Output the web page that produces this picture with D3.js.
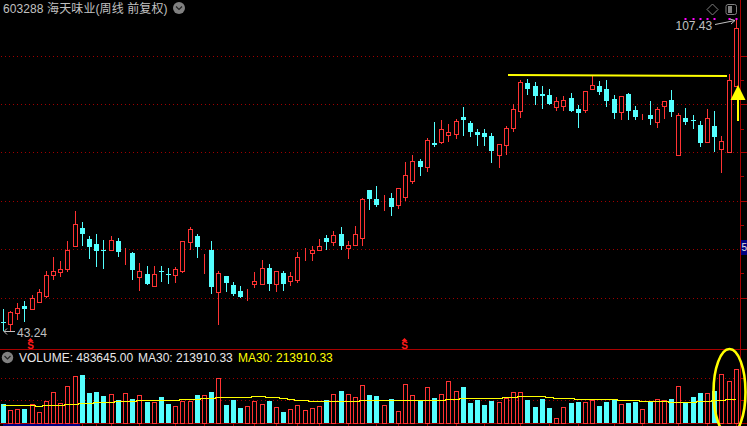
<!DOCTYPE html>
<html>
<head>
<meta charset="utf-8">
<style>
html,body{margin:0;padding:0;background:#000;overflow:hidden}
svg{display:block}
text{font-family:"Liberation Sans","Noto Sans CJK SC",sans-serif;font-size:12px}
</style>
<script src="https://cdn.jsdelivr.net/npm/d3@7/dist/d3.min.js"></script>
</head>
<body>
<svg id="chart" width="747" height="426"></svg>
<script>
// Weekly OHLC and volume for 603288, forward-adjusted.
const opens = [44.42,44.14,45.49,46.52,46.02,46.97,47.90,50.84,51.39,51.74,55.34,58.44,56.60,55.78,54.78,54.80,56.27,54.21,54.33,50.64,51.09,49.33,51.53,51.08,50.84,51.54,55.99,57.10,53.56,54.80,48.37,50.79,49.47,48.61,48.19,49.52,49.52,52.00,49.52,51.24,49.95,50.20,54.12,54.21,54.69,56.77,55.94,57.43,55.01,55.50,56.65,65.31,63.62,63.68,63.81,62.39,63.86,66.92,71.09,69.72,74.95,75.01,76.56,76.79,80.86,79.46,77.39,77.17,76.50,72.21,74.44,78.14,82.22,89.32,88.54,86.49,86.24,83.09,83.44,85.48,82.78,82.36,87.68,88.54,87.76,85.23,81.89,86.49,82.53,80.94,81.34,79.53,83.33,84.98,72.21,80.63,80.18,79.00,75.01,78.77,73.49,72.85,88.54];
const highs = [46.12,45.81,46.93,47.16,48.00,48.90,51.54,53.68,53.06,56.21,61.42,59.48,57.10,57.43,56.43,57.10,56.77,55.13,54.48,52.76,52.30,52.30,52.30,52.00,52.15,56.21,58.62,57.43,54.17,56.27,51.54,50.79,49.91,49.33,48.90,51.39,53.22,52.61,51.50,51.54,51.39,54.48,55.13,55.45,56.60,57.27,57.93,58.62,56.27,58.79,63.81,65.31,66.09,64.37,64.75,65.64,70.89,72.36,71.51,76.05,79.69,80.15,79.23,80.39,83.26,79.92,78.07,78.07,77.17,74.73,78.69,84.00,90.10,90.37,89.58,88.54,87.76,85.74,85.99,86.74,83.76,87.17,91.43,89.84,90.10,86.24,85.91,86.74,83.51,81.58,84.73,83.26,84.66,87.50,81.82,83.02,81.34,79.92,82.78,82.29,76.50,91.70,107.43];
const lows = [43.24,43.24,44.65,44.39,46.02,46.97,47.58,50.20,50.64,51.39,55.34,55.45,53.38,52.15,51.84,54.80,53.69,52.45,50.20,48.61,49.47,49.33,49.91,49.62,49.76,51.24,54.80,53.54,51.09,48.19,44.01,48.47,47.90,47.62,47.20,49.04,49.52,48.61,48.47,48.61,49.33,49.76,53.06,53.06,54.69,54.80,55.45,54.80,53.38,55.50,55.45,61.60,62.15,61.42,60.54,61.78,63.25,66.47,68.05,68.85,74.07,74.73,75.16,75.82,76.50,76.27,74.29,74.29,70.68,69.66,72.36,77.39,80.63,86.24,83.76,82.78,83.76,82.29,82.29,82.05,78.30,81.82,87.68,86.24,83.26,80.39,80.15,80.15,80.15,80.15,79.00,78.30,80.39,80.86,72.21,79.00,78.07,74.07,75.01,73.00,68.65,72.85,88.54];
const closes = [44.36,45.67,46.21,46.12,47.58,48.43,50.90,51.50,51.80,54.75,59.09,57.43,55.29,54.64,54.72,56.38,54.48,54.23,51.69,51.50,49.62,51.05,51.47,51.02,51.80,56.21,58.22,55.29,53.58,49.18,51.20,49.76,48.19,47.76,48.21,50.01,51.95,49.62,51.50,49.62,50.75,53.65,54.14,54.75,55.40,56.10,57.10,55.45,55.56,57.38,63.56,63.62,62.51,63.70,62.15,65.64,68.19,71.03,69.87,75.53,74.51,78.00,77.32,79.85,80.15,77.39,76.72,76.27,73.21,74.51,78.23,82.70,89.50,87.76,85.99,85.99,84.00,84.66,84.91,82.29,81.82,87.17,88.72,87.00,84.73,81.82,85.91,82.29,80.86,80.97,80.39,82.70,84.66,82.05,81.27,79.69,80.12,74.95,80.55,76.27,75.32,90.02,104.80];
const volumes = [171000,114000,123000,123000,168000,96000,195000,276000,177000,330000,420000,432000,270000,279000,243000,258000,207000,267000,216000,249000,189000,186000,234000,171000,150000,195000,195000,252000,249000,279000,402000,162000,207000,135000,150000,195000,168000,198000,141000,99000,123000,159000,114000,132000,150000,207000,258000,288000,258000,231000,339000,252000,243000,159000,216000,105000,348000,249000,204000,321000,225000,258000,375000,285000,324000,180000,207000,162000,198000,189000,222000,276000,276000,207000,144000,216000,135000,42000,141000,180000,189000,186000,204000,153000,189000,207000,168000,180000,189000,123000,195000,213000,204000,216000,330000,180000,234000,270000,267000,288000,438000,375000,483645];
const ma30 = [156000,156000,156000,156000,156000,150000,159000,159000,159000,168000,168000,177000,177000,186000,186000,186000,195000,195000,195000,204000,204000,204000,204000,204000,204000,213000,213000,213000,222000,222000,231000,231000,231000,231000,231000,240000,240000,231000,231000,222000,213000,204000,204000,195000,195000,195000,195000,195000,195000,195000,204000,204000,204000,204000,204000,204000,204000,204000,204000,204000,204000,204000,213000,213000,222000,222000,222000,222000,222000,222000,231000,231000,240000,240000,240000,240000,231000,222000,222000,222000,213000,213000,213000,213000,213000,213000,204000,204000,204000,195000,195000,195000,195000,186000,186000,186000,186000,195000,195000,204000,204000,213000,213910.33];

const priceMajorTicks = [47.6,54.8,63.2,72.8,83.9,96.6];
const priceMinorTicks = [51.1,58.9,67.85,78.0,90.0];
const volumeTicks = [200000,400000];
const weekTicks = [0,11,13,15,19,24,28,32,35,38,41,44,48,52,55,59,63,67,72,76,80,85,89,94,98,102];
const topDots = [95,96,97,98,99,101,102];
const sellLabels = [{i:3.8,label:"S"},{i:55.8,label:"S"}];
const maxPrice = 107.43, minPrice = 43.24;

const RED = "#ff3333", CYAN = "#54ffff", AXIS = "#a80000", GRID = "#a00000", YELLOW = "#ffff00", GREY = "#c0c0c0";

const svg = d3.select("#chart");
svg.append("rect").attr("width",747).attr("height",426).attr("fill","#000");

const x = d3.scaleLinear().domain([0,102]).range([3.3,736.3]);
const cx = i => Math.round(x(i) - 0.5) + 0.5;
const y = d3.scaleLog().domain([minPrice,maxPrice]).range([331,19.8]);
const yv = d3.scaleLinear().domain([0,483645]).range([423,369.3]);
const snap = v => Math.round(v - 0.5) + 0.5;
const indices = d3.range(opens.length);

// dotted horizontal grid, price pane then volume pane
const gridY = priceMajorTicks.map(y).concat(volumeTicks.map(yv));
svg.append("g").selectAll("line").data(gridY).join("line")
  .attr("x1",1).attr("x2",740).attr("y1",snap).attr("y2",snap)
  .attr("stroke",GRID).attr("stroke-dasharray","1 3");

// pane separator, baseline and the right-hand scale
const frame = svg.append("g").attr("stroke",AXIS).attr("shape-rendering","crispEdges");
frame.append("line").attr("x1",0).attr("x2",747).attr("y1",349.5).attr("y2",349.5);
frame.append("line").attr("x1",0).attr("x2",747).attr("y1",423.5).attr("y2",423.5);
frame.append("line").attr("x1",740.5).attr("x2",740.5).attr("y1",0).attr("y2",426);
frame.selectAll(".maj").data(priceMajorTicks).join("line").attr("class","maj")
  .attr("x1",741).attr("x2",747).attr("y1",d=>snap(y(d))).attr("y2",d=>snap(y(d)));
frame.selectAll(".min").data(priceMinorTicks).join("line").attr("class","min")
  .attr("x1",741).attr("x2",744).attr("y1",d=>snap(y(d))).attr("y2",d=>snap(y(d)));
frame.selectAll(".vt").data(volumeTicks).join("line").attr("class","vt")
  .attr("x1",741).attr("x2",745).attr("y1",d=>snap(yv(d))).attr("y2",d=>snap(yv(d)));
frame.selectAll(".wk").data(weekTicks).join("line").attr("class","wk")
  .attr("x1",d=>cx(d)).attr("x2",d=>cx(d)).attr("y1",424).attr("y2",426);
svg.append("rect").attr("x",3).attr("y",424).attr("width",77).attr("height",2).attr("fill","#000080");

// candlesticks
const candles = svg.append("g").selectAll("g").data(indices).join("g")
  .attr("shape-rendering","crispEdges");
const up = i => closes[i] >= opens[i];
candles.append("line")
  .attr("x1",i=>cx(i)).attr("x2",i=>cx(i))
  .attr("y1",i=>y(highs[i])).attr("y2",i=>y(lows[i]))
  .attr("stroke",i=>up(i)?RED:CYAN);
candles.append("rect")
  .attr("x",i=>up(i)?cx(i)-2:cx(i)-2.5)
  .attr("width",i=>up(i)?4:5)
  .attr("y",i=>{const t=Math.min(y(opens[i]),y(closes[i]));return up(i)?snap(t):Math.round(t);})
  .attr("height",i=>{const h=Math.abs(y(opens[i])-y(closes[i]));return up(i)?Math.round(h):Math.max(1,Math.round(h));})
  .attr("fill",i=>up(i)?"#000":CYAN)
  .attr("stroke",i=>up(i)?RED:"none");

// volume bars and their 30-period average
svg.append("g").attr("shape-rendering","crispEdges").selectAll("rect").data(indices).join("rect")
  .attr("x",i=>up(i)?cx(i)-2:cx(i)-2.5)
  .attr("width",i=>up(i)?4:5)
  .attr("y",i=>up(i)?snap(yv(volumes[i])):Math.round(yv(volumes[i])))
  .attr("height",i=>423-Math.round(yv(volumes[i])))
  .attr("fill",i=>up(i)?"#000":CYAN)
  .attr("stroke",i=>up(i)?RED:"none");
svg.append("path")
  .attr("d",d3.line().x(i=>x(i)).y(i=>yv(ma30[i])).curve(d3.curveStep)(indices))
  .attr("fill","none").attr("stroke",YELLOW).attr("shape-rendering","crispEdges");

// row of markers along the top of the price pane
svg.append("g").selectAll("rect").data(topDots).join("rect")
  .attr("x",i=>cx(i)-1).attr("y",18).attr("width",2).attr("height",2).attr("fill","#ff00ff");

// sell flags above the pane separator
const flags = svg.append("g").selectAll("g").data(sellLabels).join("g")
  .attr("transform",d=>`translate(${cx(d.i)},0)`);
flags.append("path").attr("d","M0,338L3,341L-3,341Z").attr("fill","#ff1a1a");
flags.append("text").attr("x",0).attr("y",348.5).attr("text-anchor","middle")
  .style("font-size","10px").style("font-weight","bold").attr("fill","#ff1a1a").text(d=>d.label);

// annotations drawn on top of the chart
svg.append("line").attr("x1",508).attr("y1",75).attr("x2",727).attr("y2",76)
  .attr("stroke",YELLOW).attr("stroke-width",2.2);
svg.append("path").attr("d","M738,85L745.5,100L730.5,100Z").attr("fill",YELLOW);
svg.append("line").attr("x1",738).attr("x2",738).attr("y1",100).attr("y2",121)
  .attr("stroke",YELLOW).attr("stroke-width",2);
svg.append("ellipse").attr("cx",729.5).attr("cy",392).attr("rx",16).attr("ry",43)
  .attr("fill","none").attr("stroke",YELLOW).attr("stroke-width",2.6);

// extreme price callouts
svg.append("text").attr("x",675.5).attr("y",30).attr("fill",GREY).text(maxPrice.toFixed(2));
svg.append("path").attr("d","M715,24.5L735,20.5M730,19L735,20.5L731,24")
  .attr("fill","none").attr("stroke",GREY);
svg.append("text").attr("x",17).attr("y",337).attr("fill",GREY).text(minPrice.toFixed(2));
svg.append("path").attr("d","M15,331.5L4,331.5M7,328.5L4,331.5L7,334.5")
  .attr("fill","none").attr("stroke",GREY);

// chart title
svg.append("text").attr("x",3).attr("y",13).attr("fill",GREY)
  .attr("letter-spacing","0.1").text("603288 海天味业(周线 前复权)");

// round collapse buttons with a chevron
function chevron(cxp,cyp,r){
  svg.append("circle").attr("cx",cxp).attr("cy",cyp).attr("r",r).attr("fill","#808080");
  svg.append("path").attr("d",`M${cxp-3},${cyp-1.5}L${cxp},${cyp+1.5}L${cxp+3},${cyp-1.5}`)
    .attr("fill","none").attr("stroke","#222").attr("stroke-width",1.2);
}
chevron(179,8,6);
chevron(7.5,357.5,5.7);

// volume pane legend
const legendFmt = d3.format(".2f");
const legend = [
  {x:19,c:"#e8e8e8",t:`VOLUME: ${legendFmt(volumes[102])}`},
  {x:138,c:"#e8e8e8",t:`MA30: ${legendFmt(ma30[102])}`},
  {x:238,c:YELLOW,t:`MA30: ${legendFmt(ma30[102])}`}
];
svg.append("g").selectAll("text").data(legend).join("text")
  .attr("x",d=>d.x).attr("y",362).attr("fill",d=>d.c).text(d=>d.t);

// toolbar icons in the corner
svg.append("path").attr("d","M712.5,4L718,9.5L712.5,15L707,9.5Z").attr("fill","none").attr("stroke","#808080");
svg.append("rect").attr("x",726).attr("y",4.5).attr("width",10.5).attr("height",10).attr("rx",2)
  .attr("fill","#000").attr("stroke","#808080");
svg.append("rect").attr("x",728).attr("y",6).attr("width",4).attr("height",7).attr("fill","#808080");

// scale value flag on the right edge
svg.append("rect").attr("x",741).attr("y",240).attr("width",6).attr("height",15).attr("fill","#000080");
svg.append("text").attr("x",741.5).attr("y",251).style("font-size","10px").attr("fill","#e0e0e0").text("5");
</script>
</body>
</html>
